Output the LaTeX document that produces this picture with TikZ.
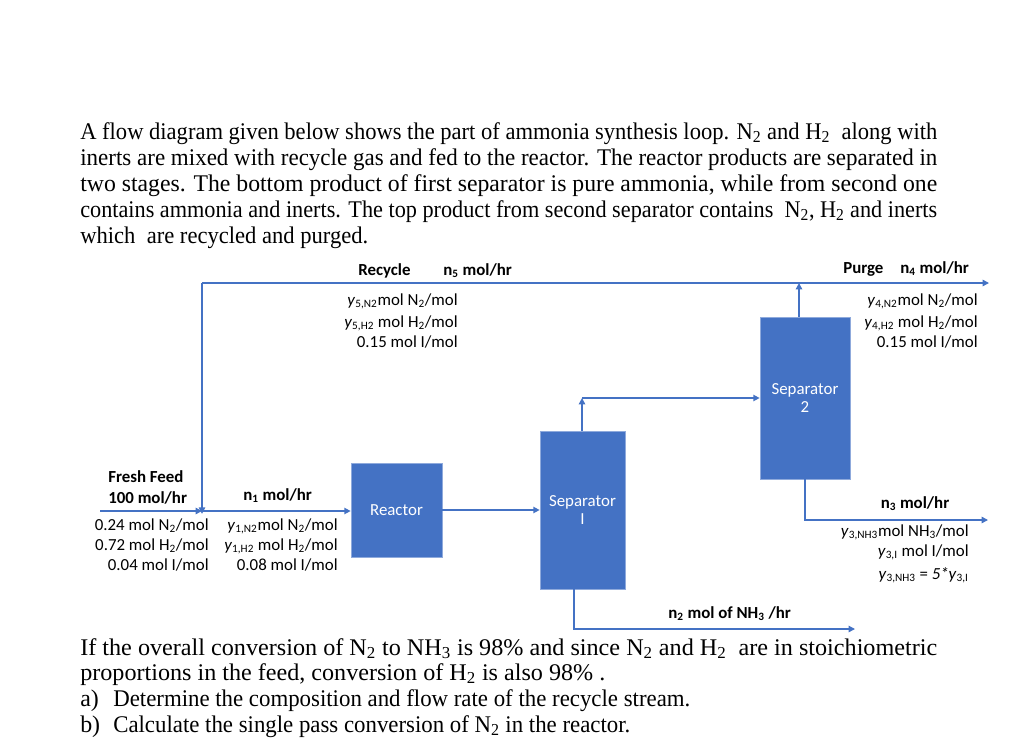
\documentclass[tikz,border=0pt]{standalone}
\usepackage{fontspec}
\setmainfont{Liberation Serif}
\newfontfamily\diagfont{Carlito}
\usetikzlibrary{arrows.meta}

\definecolor{boxblue}{HTML}{4472C4}
\newlength\pxu
\setlength\pxu{0.025cm}
\newcommand\fitline[2]{\resizebox{#1\pxu}{\height}{#2}}
\newcommand\sub[1]{\textsubscript{#1}}
\newcommand\ymol[1]{\textit{y}\textsubscript{#1}}

\tikzset{
  para/.style={anchor=base west, inner sep=0pt, font=\fontsize{17pt}{20pt}\selectfont},
  lbl/.style={inner sep=0pt, font=\diagfont\fontsize{12pt}{14pt}\selectfont},
  bold lbl/.style={lbl, font=\diagfont\fontsize{12pt}{14pt}\selectfont\bfseries},
  unit/.style={draw=boxblue!60!white, line width=0.5pt, fill=boxblue, text=white,
    align=center, inner sep=0pt, font=\diagfont\fontsize{12pt}{14pt}\selectfont},
  flow/.style={draw=boxblue, line width=1pt, -{Triangle[length=4.5pt,width=4.5pt]}},
}

\begin{document}
\begin{tikzpicture}[x=0.025cm, y=-0.025cm]
  \useasboundingbox[fill=white] (0,0) rectangle (1024,742);

  \node[para] (t1) at (80,139) {\fitline{857}{A flow diagram given below shows the part of ammonia synthesis loop. N\sub2 and H\sub2\ \ along with}};
  \node[para] (t2) at (80,165) {\fitline{857}{inerts are mixed with recycle gas and fed to the reactor. The reactor products are separated in}};
  \node[para] (t3) at (80,191) {\fitline{857}{two stages. The bottom product of first separator is pure ammonia, while from second one}};
  \node[para] (t4) at (80,217) {\fitline{857}{contains ammonia and inerts. The top product from second separator contains\ \ N\sub2, H\sub2 and inerts}};
  \node[para] (t5) at (80,243) {\fitline{288}{which\ \ are recycled and purged.}};

  \begin{scope}[every node/.style={unit}]
    \node[minimum width=2.275cm, minimum height=2.35cm] (reactor) at (396.5,510) {Reactor};
    \node[minimum width=2.125cm, minimum height=3.95cm] (sep1) at (582.5,510) {Separator\\[-1pt] I};
    \node[minimum width=2.25cm, minimum height=4.05cm] (sep2) at (805,398) {Separator\\[-1pt] 2};
  \end{scope}

  \coordinate (feedin) at (100,511);
  \coordinate (mix) at (202,511);
  \coordinate (rcorner) at (202,283);
  \coordinate (split) at (799,283);
  \coordinate (purgeout) at (989,283);
  \coordinate (vap1) at (582,398);
  \coordinate (liqout) at (988,520);
  \coordinate (nh3out) at (855,629);

  \draw[flow] (feedin) -- (mix);
  \draw[flow] (mix) -- (reactor.west |- mix);
  \draw[flow] (reactor.east) -- (sep1.west);
  \draw[flow] (sep1.north -| vap1) -- (vap1);
  \draw[flow] (vap1) -- (vap1 -| sep2.west);
  \draw[flow] (sep2.north -| split) -- (split);
  \draw[flow] (rcorner) -- (purgeout);
  \draw[flow] (rcorner) -- ([yshift=-2pt]mix);
  \draw[flow] (sep2.south) |- (liqout);
  \draw[flow] (sep1.south -| 574,0) |- (nh3out);

  \node[bold lbl, anchor=base west] (reclbl) at (358,275) {Recycle};
  \node[bold lbl, anchor=base west] (n5lbl) at (443,275) {n\sub5 mol/hr};
  \node[bold lbl, anchor=base west] (purgelbl) at (843,273) {Purge};
  \node[bold lbl, anchor=base west] (n4lbl) at (900,273) {n\sub4 mol/hr};

  \begin{scope}[every node/.style={lbl, anchor=base east}]
    \node (r1) at (458,305) {\ymol{5,N2}mol N\sub2/mol};
    \node (r2) at (458,327) {\ymol{5,H2} mol H\sub2/mol};
    \node (r3) at (458,347) {0.15 mol I/mol};
    \node (p1) at (978,305) {\ymol{4,N2}mol N\sub2/mol};
    \node (p2) at (978,327) {\ymol{4,H2} mol H\sub2/mol};
    \node (p3) at (978,347) {0.15 mol I/mol};
    \node (f1) at (209,530) {0.24 mol N\sub2/mol};
    \node (f2) at (209,550) {0.72 mol H\sub2/mol};
    \node (f3) at (209,570) {0.04 mol I/mol};
    \node (s1) at (338,530) {\ymol{1,N2}mol N\sub2/mol};
    \node (s2) at (338,550) {\ymol{1,H2} mol H\sub2/mol};
    \node (s3) at (338,570) {0.08 mol I/mol};
    \node (l1) at (969,536) {\ymol{3,NH3}mol NH\sub3/mol};
    \node (l2) at (969,556) {\ymol{3,I} mol I/mol};
    \node (l3) at (969,579) {\ymol{3,NH3} = \textit{5*y}\sub{3,I}};
  \end{scope}

  \node[bold lbl, anchor=base west] (feedlbl) at (108,482) {Fresh Feed};
  \node[bold lbl, anchor=base west] (feedrate) at (108,503) {100 mol/hr};
  \node[bold lbl, anchor=base west] (n1lbl) at (243,500) {n\sub1 mol/hr};
  \node[bold lbl, anchor=base] (n3lbl) at (915,508) {n\sub3 mol/hr};
  \node[bold lbl, anchor=base west] (n2lbl) at (668,618) {n\sub2 mol of NH\sub3 /hr};

  \node[para] (b1) at (80,655) {\fitline{857}{If the overall conversion of N\sub2 to NH\sub3 is 98\% and since N\sub2 and H\sub2\ \ are in stoichiometric}};
  \node[para] (b2) at (80,680) {\fitline{525}{proportions in the feed, conversion of H\sub2 is also 98\% .}};
  \node[para] (qa) at (80,706) {a)};
  \node[para] (b3) at (113,706) {\fitline{577}{Determine the composition and flow rate of the recycle stream.}};
  \node[para] (qb) at (80,732) {b)};
  \node[para] (b4) at (113,732) {\fitline{517}{Calculate the single pass conversion of N\sub2 in the reactor.}};

\end{tikzpicture}
\end{document}
